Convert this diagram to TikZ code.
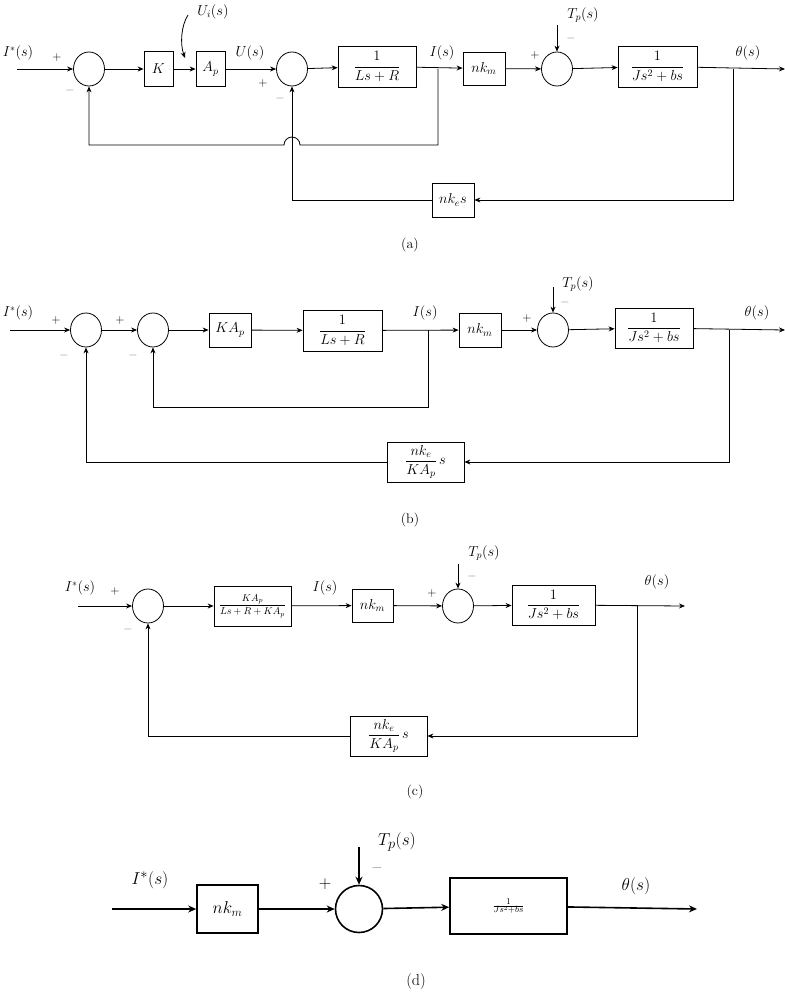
\documentclass[tikz,border=0pt]{standalone}
\usepackage{amsmath}
\usetikzlibrary{shapes.geometric,arrows.meta}
\begin{document}
\begin{tikzpicture}[x=1pt,y=-1pt,
  line width=0.8pt, >={Stealth[length=6pt,width=5pt]},
  sum/.style={draw,ellipse,minimum width=31pt,minimum height=34pt,inner sep=0pt},
  blk/.style={draw,rectangle,inner sep=0pt},
  lab/.style={font=\fontsize{14}{16}\selectfont},
  sg/.style={font=\fontsize{13}{15}\selectfont,inner sep=0pt},
  sgm/.style={font=\fontsize{13}{15}\selectfont,inner sep=0pt,text=gray}]
\useasboundingbox (0,0) rectangle (785,994);
% ---------------- (a)
\coordinate (ain) at (17,69);
\node[sum] (as1) at (89,69) {};
\node[blk,minimum width=29pt,minimum height=35pt,lab] (aK) at (158.5,69) {$K$};
\node[blk,minimum width=29pt,minimum height=35pt,lab] (aA) at (210.5,69) {$A_p$};
\node[sum] (as2) at (292,69) {};
\node[blk,minimum width=78pt,minimum height=41pt,lab] (aG1) at (377,66.5) {$\dfrac{1}{Ls+R}$};
\node[blk,minimum width=42pt,minimum height=33pt,lab] (anm) at (484,68.5) {$nk_m$};
\node[sum] (as3) at (557,69) {};
\node[blk,minimum width=79pt,minimum height=41pt,lab] (aG2) at (657.5,66.5) {$\dfrac{1}{Js^2+bs}$};
\coordinate (aout) at (785,69);
\coordinate (at1) at (438,69);
\coordinate (at2) at (733,69);
\node[blk,minimum width=42pt,minimum height=34pt,lab] (ake) at (453,200) {$nk_es$};
\coordinate (aT) at (557,25);
\coordinate (aUi) at (188,15);
\draw[->] (ain) -- (as1);
\draw[->] (as1) -- (aK);
\draw[->] (aK) -- (aA);
\draw[->] (aA) -- (as2);
\draw[->] (as2) -- (aG1);
\draw[->] (aG1) -- (anm);
\draw[->] (anm) -- (as3);
\draw[->] (as3) -- (aG2);
\draw[->] (aG2) -- (aout);
\draw[->] (aT) -- (as3);
\draw[->] (aUi) .. controls (181,26) and (180,44) .. (185,58);
\draw[->] (at1) -- (438,145) -- (300,145) arc[start angle=0,end angle=-180,radius=8] -- (89,145) -- (as1);
\draw[->] (at2) -- (733,200) -- (ake);
\draw[->] (ake) -- (292,200) -- (as2);
\node[lab] at (18,53) {$I^{*}(s)$};
\node[sg] at (57,57) {$+$};
\node[sgm] at (70,90) {$-$};
\node[lab] at (213,12) {$U_i(s)$};
\node[lab] at (250,53) {$U(s)$};
\node[sg] at (263,83) {$+$};
\node[sgm] at (280,98) {$-$};
\node[lab] at (442,53) {$I(s)$};
\node[sg] at (535,55) {$+$};
\node[sgm] at (571,38) {$-$};
\node[lab] at (583,15) {$T_p(s)$};
\node[lab] at (748,53) {$\theta(s)$};
\node[lab] at (410,245) {(a)};
% ---------------- (b)
\coordinate (bin) at (10,330);
\node[sum] (bs1) at (86,330) {};
\node[sum] (bs2) at (153,330) {};
\node[blk,minimum width=42pt,minimum height=34pt,lab] (bKA) at (230,330) {$KA_p$};
\node[blk,minimum width=79pt,minimum height=41pt,lab] (bG1) at (342.5,330.5) {$\dfrac{1}{Ls+R}$};
\node[blk,minimum width=42pt,minimum height=34pt,lab] (bnm) at (480,330) {$nk_m$};
\node[sum] (bs3) at (553,330) {};
\node[blk,minimum width=78pt,minimum height=40pt,lab] (bG2) at (654,328) {$\dfrac{1}{Js^2+bs}$};
\coordinate (bout) at (785,330);
\coordinate (bt1) at (428,330);
\coordinate (bt2) at (729,330);
\node[blk,minimum width=77pt,minimum height=40pt,lab] (bke) at (425.5,462) {$\dfrac{nk_e}{KA_p}\,s$};
\coordinate (bT) at (553,287);
\draw[->] (bin) -- (bs1);
\draw[->] (bs1) -- (bs2);
\draw[->] (bs2) -- (bKA);
\draw[->] (bKA) -- (bG1);
\draw[->] (bG1) -- (bnm);
\draw[->] (bnm) -- (bs3);
\draw[->] (bs3) -- (bG2);
\draw[->] (bG2) -- (bout);
\draw[->] (bT) -- (bs3);
\draw[->] (bt1) -- (428,407) -- (153,407) -- (bs2);
\draw[->] (bt2) -- (729,462) -- (bke);
\draw[->] (bke) -- (86,462) -- (bs1);
\node[lab] at (18,313) {$I^{*}(s)$};
\node[sg] at (56,320) {$+$};
\node[sgm] at (64,355) {$-$};
\node[sg] at (120,320) {$+$};
\node[sgm] at (133,355) {$-$};
\node[lab] at (425,313) {$I(s)$};
\node[sg] at (527,318) {$+$};
\node[sgm] at (565,302) {$-$};
\node[lab] at (578,284) {$T_p(s)$};
\node[lab] at (757,313) {$\theta(s)$};
\node[lab] at (410,520) {(b)};
% ---------------- (c)
\coordinate (cin) at (78,606);
\node[sum] (cs1) at (148,606) {};
\node[blk,minimum width=77pt,minimum height=40pt,font=\fontsize{10}{11}\selectfont] (cG1) at (252.5,606) {$\dfrac{KA_p}{Ls+R+KA_p}$};
\node[blk,minimum width=41pt,minimum height=33pt,lab] (cnm) at (372.5,605.5) {$nk_m$};
\node[sum] (cs2) at (458,606) {};
\node[blk,minimum width=83pt,minimum height=40pt,lab] (cG2) at (553.5,605) {$\dfrac{1}{Js^2+bs}$};
\coordinate (cout) at (685,606);
\coordinate (ct) at (637,606);
\node[blk,minimum width=77pt,minimum height=40pt,lab] (cke) at (388.5,736) {$\dfrac{nk_e}{KA_p}\,s$};
\coordinate (cT) at (458,564);
\draw[->] (cin) -- (cs1);
\draw[->] (cs1) -- (cG1);
\draw[->] (cG1) -- (cnm);
\draw[->] (cnm) -- (cs2);
\draw[->] (cs2) -- (cG2);
\draw[->] (cG2) -- (cout);
\draw[->] (cT) -- (cs2);
\draw[->] (ct) -- (637,736) -- (cke);
\draw[->] (cke) -- (148,736) -- (cs1);
\node[lab] at (80,588) {$I^{*}(s)$};
\node[sg] at (115,591) {$+$};
\node[sgm] at (128,629) {$-$};
\node[lab] at (325,588) {$I(s)$};
\node[sg] at (432,593) {$+$};
\node[sgm] at (472,576) {$-$};
\node[lab] at (484,553) {$T_p(s)$};
\node[lab] at (657,582) {$\theta(s)$};
\node[lab] at (415,792) {(c)};
% ---------------- (d)
\begin{scope}[line width=1.6pt,>={Stealth[length=8pt,width=7pt]}]
\coordinate (din) at (112,909);
\node[blk,minimum width=61pt,minimum height=48pt,font=\fontsize{18}{20}\selectfont] (dnm) at (227.5,909) {$nk_m$};
\node[draw,circle,minimum size=47pt,inner sep=0pt] (ds) at (359,909) {};
\node[blk,minimum width=117pt,minimum height=56pt,font=\fontsize{13}{15}\selectfont] (dG) at (508.5,906) {$\frac{1}{Js^2+bs}$};
\coordinate (dout) at (697,909);
\coordinate (dT) at (359,847);
\draw[->] (din) -- (dnm);
\draw[->] (dnm) -- (ds);
\draw[->] (ds) -- (dG);
\draw[->] (dG) -- (dout);
\draw[->] (dT) -- (ds);
\end{scope}
\node[font=\fontsize{19}{21}\selectfont] at (150,880) {$I^{*}(s)$};
\node[font=\fontsize{17}{19}\selectfont] at (325,884) {$+$};
\node[font=\fontsize{14}{16}\selectfont,text=gray] at (377,868) {$-$};
\node[font=\fontsize{19}{21}\selectfont] at (397,842) {$T_p(s)$};
\node[font=\fontsize{19}{21}\selectfont] at (636,886) {$\theta(s)$};
\node[font=\fontsize{16}{18}\selectfont] at (416,981) {(d)};
\end{tikzpicture}
\end{document}
